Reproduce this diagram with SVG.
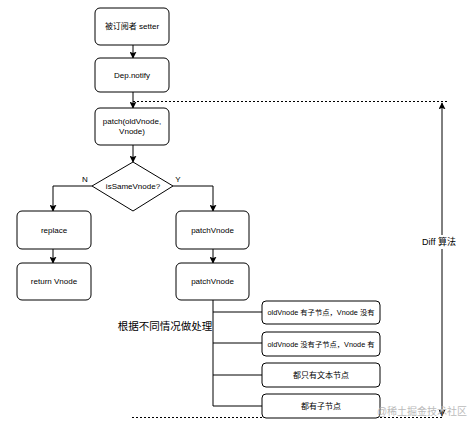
<svg xmlns="http://www.w3.org/2000/svg" width="474" height="430" viewBox="0 0 474 430">
<defs>
<style>
.n{fill:#fff;stroke:#000;stroke-width:1}
.t{font-family:"Liberation Sans","Noto Sans CJK SC",sans-serif;font-size:8px;fill:#000;text-anchor:middle;dominant-baseline:central}
.s{font-size:7.3px}
.c{fill:none;stroke:#000;stroke-width:1}
.d{fill:none;stroke:#000;stroke-width:1;stroke-dasharray:2 2}
</style>
<marker id="a" viewBox="0 0 10 10" refX="9" refY="5" markerWidth="7" markerHeight="7" orient="auto-start-reverse" markerUnits="userSpaceOnUse">
<path d="M0,0 L10,5 L0,10 L2,5 z" fill="#000"/>
</marker>
</defs>
<rect width="474" height="430" fill="#fff"/>
<g id="connectors">
<path class="c" d="M133,45 V58" marker-end="url(#a)"/>
<path class="c" d="M133,92 V108" marker-end="url(#a)"/>
<path class="c" d="M133,145 V162" marker-end="url(#a)"/>
<path class="c" d="M92,186 H53 V211" marker-end="url(#a)"/>
<path class="c" d="M173,186 H213 V211" marker-end="url(#a)"/>
<path class="c" d="M53,249 V263" marker-end="url(#a)"/>
<path class="c" d="M213,249 V263" marker-end="url(#a)"/>
<path class="c" d="M213,300 V406 M213,312 H262 M213,343 H262 M213,375 H262 M213,406 H262"/>
<path class="d" d="M133,101.5 H448"/>
<path class="d" d="M132,417.5 H442"/>
<path class="c" d="M442,103 V416" marker-start="url(#a)" marker-end="url(#a)"/>
<rect x="422" y="235" width="34" height="14" fill="#fff"/>
<text class="t" x="439" y="242" style="font-size:9px">Diff 算法</text>
<text class="t" x="85" y="179">N</text>
<text class="t" x="178" y="179">Y</text>
</g>
<g id="n1"><rect class="n" x="95" y="8" width="74" height="37" rx="5"/><text class="t" x="132" y="26.5">被订阅者 setter</text></g>
<g id="n2"><rect class="n" x="95" y="58" width="74" height="34" rx="5"/><text class="t" x="132" y="75">Dep.notify</text></g>
<g id="n3"><rect class="n" x="95" y="108" width="74" height="37" rx="5"/><text class="t" x="132" y="121">patch(oldVnode,</text><text class="t" x="132" y="131">Vnode)</text></g>
<g id="n4"><path class="n" d="M133,162 L173,186 L133,211 L92,186 Z"/><text class="t" x="133" y="186">isSameVnode?</text></g>
<g id="n5"><rect class="n" x="17" y="211" width="74" height="38" rx="5"/><text class="t" x="54" y="230">replace</text></g>
<g id="n6"><rect class="n" x="17" y="263" width="74" height="37" rx="5"/><text class="t" x="54" y="281.5">return Vnode</text></g>
<g id="n7"><rect class="n" x="176" y="211" width="73" height="38" rx="5"/><text class="t" x="212.5" y="230">patchVnode</text></g>
<g id="n8"><rect class="n" x="176" y="263" width="73" height="37" rx="5"/><text class="t" x="212.5" y="281.5">patchVnode</text></g>
<g id="n9"><text class="t" x="165" y="326" style="font-size:10.5px">根据不同情况做处理</text></g>
<g id="n10"><rect class="n" x="262" y="301" width="118" height="23" rx="4"/><text class="t s" x="321" y="312.5">oldVnode 有子节点，Vnode 没有</text></g>
<g id="n11"><rect class="n" x="262" y="332" width="118" height="24" rx="4"/><text class="t s" x="321" y="344">oldVnode 没有子节点，Vnode 有</text></g>
<g id="n12"><rect class="n" x="262" y="363" width="118" height="24" rx="4"/><text class="t" x="321" y="375">都只有文本节点</text></g>
<g id="n13"><rect class="n" x="262" y="394" width="118" height="24" rx="4"/><text class="t" x="321" y="406">都有子节点</text></g>
<text class="t" x="422" y="411" style="font-size:10px;fill:#bbb">@稀土掘金技术社区</text>
</svg>
